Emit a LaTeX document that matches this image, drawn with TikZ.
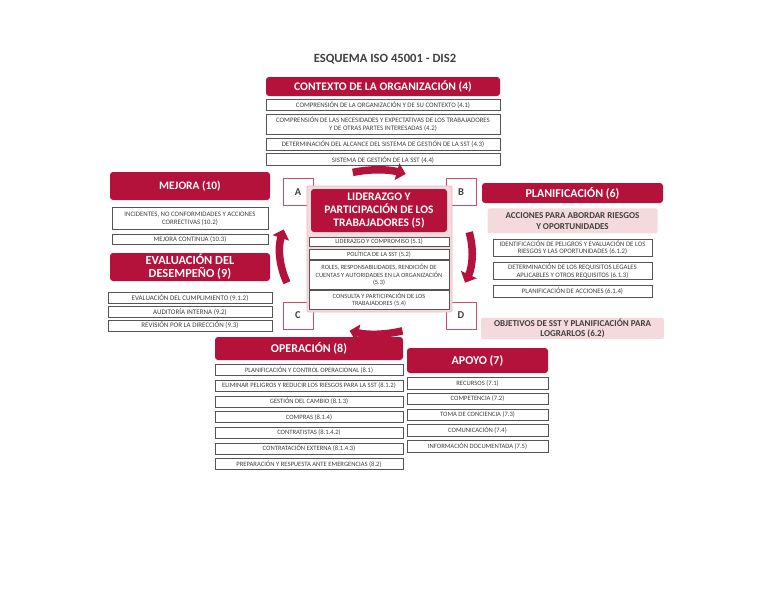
\documentclass[tikz,border=0pt]{standalone}
\usepackage{fontspec}
\setmainfont{Carlito}
\usetikzlibrary{positioning,arrows.meta}

\definecolor{crimson}{RGB}{180,18,58}
\definecolor{blush}{RGB}{244,218,220}
\definecolor{rim}{RGB}{230,186,192}
\definecolor{ink}{RGB}{64,64,64}
\definecolor{frame}{RGB}{85,85,85}

\tikzset{
  head/.style={fill=crimson, rounded corners=3pt, text=white, align=center, inner sep=0pt,
    font=\bfseries\fontsize{12}{13}\selectfont},
  item/.style={draw=frame, line width=0.7pt, fill=white, text=ink, align=center, inner sep=0.5pt,
    font=\fontsize{6.8}{7.5}\selectfont},
  sub/.style={fill=blush, rounded corners=2pt, text=ink, align=center, inner sep=0pt,
    font=\bfseries\fontsize{9}{10.5}\selectfont},
  letter/.style={draw=crimson!75, line width=0.8pt, fill=white, text=ink, minimum width=30pt,
    minimum height=27pt, inner sep=0pt, font=\bfseries\fontsize{10.5}{10.5}\selectfont},
  cycle arrow/.style={draw=crimson, line width=7.5pt, -{Triangle[length=9pt,width=17pt]}}
}

\begin{document}
\begin{tikzpicture}[x=1pt,y=-1pt,
    ctx/.style={item, minimum width=234pt},
    mej/.style={item, minimum width=156pt},
    eva/.style={item, minimum width=164pt, minimum height=11pt, font=\fontsize{7}{7.5}\selectfont},
    lid/.style={item, minimum width=140pt, inner sep=0pt, font=\fontsize{6.4}{7.2}\selectfont},
    pla/.style={item, minimum width=159pt},
    ope/.style={item, minimum width=188pt, minimum height=11pt, font=\fontsize{6.6}{7.2}\selectfont},
    apo/.style={item, minimum width=141pt, minimum height=11.5pt, font=\fontsize{6.6}{7.2}\selectfont}]
  \useasboundingbox (0,0) rectangle (768,594);

  \node[text=ink, font=\bfseries\fontsize{12.6}{13}\selectfont] (title) at (385,59) {ESQUEMA ISO 45001 - DIS2};

  % contexto
  \node[head, minimum width=234pt, minimum height=19pt, font=\bfseries\fontsize{11.6}{12}\selectfont] (ctx) at (383,86.5) {CONTEXTO DE LA ORGANIZACIÓN (4)};
  \node[ctx, minimum height=11pt] (c1) [below=3pt of ctx] {COMPRENSIÓN DE LA ORGANIZACIÓN Y DE SU CONTEXTO (4.1)};
  \node[ctx, minimum height=20pt] (c2) [below=3pt of c1] {COMPRENSIÓN DE LAS NECESIDADES Y EXPECTATIVAS DE LOS TRABAJADORES\\Y DE OTRAS PARTES INTERESADAS (4.2)};
  \node[ctx, minimum height=12pt] (c3) [below=3pt of c2] {DETERMINACIÓN DEL ALCANCE DEL SISTEMA DE GESTIÓN DE LA SST (4.3)};
  \node[ctx, minimum height=12pt] (c4) [below=3pt of c3] {SISTEMA DE GESTIÓN DE LA SST (4.4)};

  % mejora y evaluacion
  \node[head, minimum width=160pt, minimum height=28pt, font=\bfseries\fontsize{11.4}{12}\selectfont] (mej) at (190,186) {MEJORA (10)};
  \node[mej, minimum height=22pt] (m1) [below=7pt of mej] {INCIDENTES, NO CONFORMIDADES Y ACCIONES\\CORRECTIVAS (10.2)};
  \node[mej, minimum height=10pt] (m2) [below=4pt of m1] {MEJORA CONTINUA (10.3)};
  \node[head, minimum width=160pt, minimum height=28pt, font=\bfseries\fontsize{12.4}{12.8}\selectfont] (eva) at (190,267) {EVALUACIÓN DEL\\DESEMPEÑO (9)};
  \node[eva] (e1) [below=11pt of eva] {EVALUACIÓN DEL CUMPLIMIENTO (9.1.2)};
  \node[eva] (e2) [below=2pt of e1] {AUDITORÍA INTERNA (9.2)};
  \node[eva] (e3) [below=2pt of e2] {REVISIÓN POR LA DIRECCIÓN (9.3)};

  % ciclo
  \coordinate (hub) at (376,252);
  \draw[cycle arrow] (hub) ++(-104:96 and 82) arc[start angle=-104, end angle=-72, x radius=96, y radius=82];
  \draw[cycle arrow] (hub) ++(-14:96 and 82) arc[start angle=-14, end angle=22, x radius=96, y radius=82];
  \draw[cycle arrow] (hub) ++(74:96 and 82) arc[start angle=74, end angle=106, x radius=96, y radius=82];
  \draw[cycle arrow] (hub) ++(158:96 and 82) arc[start angle=158, end angle=196, x radius=96, y radius=82];
  \node[letter] (A) at (298,192) {A};
  \node[letter] (B) at (461,192) {B};
  \node[letter] (C) at (298,315.5) {C};
  \node[letter] (D) at (461,315.5) {D};

  % liderazgo
  \node[draw=rim, fill=blush, line width=0.8pt, rounded corners=2pt, minimum width=145pt, minimum height=126pt] (core) at (379.5,249) {};
  \node[head, minimum width=136pt, minimum height=43pt, font=\bfseries\fontsize{11.5}{12.8}\selectfont] (lh) at (379,210.5) {LIDERAZGO Y\\PARTICIPACIÓN DE LOS\\TRABAJADORES (5)};
  \node[lid, minimum height=9pt] (l1) [below=4.5pt of lh] {LIDERAZGO Y COMPROMISO (5.1)};
  \node[lid, minimum height=10pt] (l2) [below=3pt of l1] {POLÍTICA DE LA SST (5.2)};
  \node[lid, minimum height=29pt] (l3) [below=0pt of l2] {ROLES, RESPONSABILIDADES, RENDICIÓN DE\\CUENTAS Y AUTORIDADES EN LA ORGANIZACIÓN\\(5.3)};
  \node[lid, minimum height=19pt] (l4) [below=0pt of l3] {CONSULTA Y PARTICIPACIÓN DE LOS\\TRABAJADORES (5.4)};

  % planificacion
  \node[head, minimum width=181pt, minimum height=20pt] (pla) at (572.5,193) {PLANIFICACIÓN (6)};
  \node[sub, minimum width=170pt, minimum height=25pt] (acc) [below=5pt of pla] {ACCIONES PARA ABORDAR RIESGOS\\Y OPORTUNIDADES};
  \node[pla, minimum height=17pt] (p1) [below=5pt of acc] {IDENTIFICACIÓN DE PELIGROS Y EVALUACIÓN DE LOS\\RIESGOS Y LAS OPORTUNIDADES (6.1.2)};
  \node[pla, minimum height=17pt] (p2) [below=6pt of p1] {DETERMINACIÓN DE LOS REQUISITOS LEGALES\\APLICABLES Y OTROS REQUISITOS (6.1.3)};
  \node[pla, minimum height=12pt] (p3) [below=5pt of p2] {PLANIFICACIÓN DE ACCIONES (6.1.4)};
  \node[sub, minimum width=183pt, minimum height=21pt] (obj) [below=20pt of p3] {OBJETIVOS DE SST Y PLANIFICACIÓN PARA\\LOGRARLOS (6.2)};

  % operacion
  \node[head, minimum width=188pt, minimum height=23pt] (ope) at (309,348.5) {OPERACIÓN (8)};
  \node[ope] (o1) [below=4pt of ope] {PLANIFICACIÓN Y CONTROL OPERACIONAL (8.1)};
  \node[ope] (o2) [below=4pt of o1] {ELIMINAR PELIGROS Y REDUCIR LOS RIESGOS PARA LA SST (8.1.2)};
  \node[ope] (o3) [below=4pt of o2] {GESTIÓN DEL CAMBIO (8.1.3)};
  \node[ope] (o4) [below=4pt of o3] {COMPRAS (8.1.4)};
  \node[ope] (o5) [below=4pt of o4] {CONTRATISTAS (8.1.4.2)};
  \node[ope] (o6) [below=4pt of o5] {CONTRATACIÓN EXTERNA (8.1.4.3)};
  \node[ope] (o7) [below=4pt of o6] {PREPARACIÓN Y RESPUESTA ANTE EMERGENCIAS (8.2)};

  % apoyo
  \node[head, minimum width=141pt, minimum height=25pt] (apo) at (477.5,360.5) {APOYO (7)};
  \node[apo] (a1) [below=4pt of apo] {RECURSOS (7.1)};
  \node[apo] (a2) [below=3.5pt of a1] {COMPETENCIA (7.2)};
  \node[apo] (a3) [below=3.5pt of a2] {TOMA DE CONCIENCIA (7.3)};
  \node[apo] (a4) [below=3.5pt of a3] {COMUNICACIÓN (7.4)};
  \node[apo] (a5) [below=3.5pt of a4] {INFORMACIÓN DOCUMENTADA (7.5)};
\end{tikzpicture}
\end{document}
